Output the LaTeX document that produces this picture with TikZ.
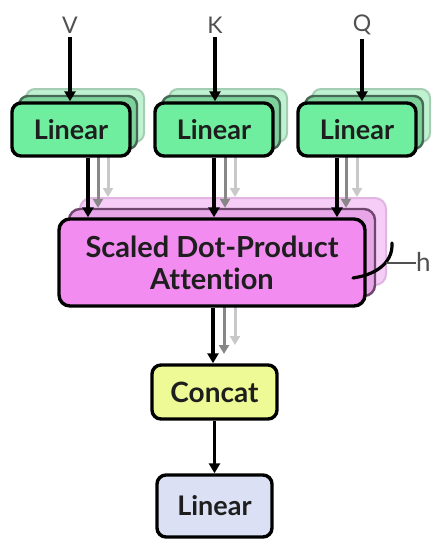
\documentclass[tikz,border=0pt]{standalone}
\usepackage{fontspec}
\setmainfont{Lato}[Ligatures=NoCommon]
\usetikzlibrary{arrows.meta}
\definecolor{gfront}{RGB}{112,238,160}
\definecolor{gmid}{RGB}{125,210,155}
\definecolor{gmidd}{RGB}{70,105,85}
\definecolor{gback}{RGB}{190,242,208}
\definecolor{gbackd}{RGB}{165,205,180}
\definecolor{pfront}{RGB}{242,140,240}
\definecolor{pmid}{RGB}{232,165,232}
\definecolor{pmidd}{RGB}{110,70,110}
\definecolor{pback}{RGB}{246,205,246}
\definecolor{pbackd}{RGB}{225,180,225}
\definecolor{ycol}{RGB}{238,250,150}
\definecolor{lcol}{RGB}{220,224,245}
\definecolor{txt}{RGB}{30,30,30}
\definecolor{lbltxt}{RGB}{80,80,80}
\definecolor{greyA}{RGB}{135,135,135}
\definecolor{greyB}{RGB}{200,200,200}
\tikzset{
  box/.style={draw=black, line width=3.4pt, rounded corners=9pt, text=txt, font=\bfseries},
  linbox/.style={box, fill=gfront, minimum width=118pt, minimum height=53pt, font=\bfseries\fontsize{27}{29}\selectfont},
  linmid/.style={draw=gmidd, line width=2.4pt, rounded corners=9pt, fill=gmid, minimum width=118pt, minimum height=53pt},
  linback/.style={draw=gbackd, line width=2pt, rounded corners=9pt, fill=gback, minimum width=118pt, minimum height=53pt},
  sdmid/.style={draw=pmidd, line width=2.4pt, rounded corners=11pt, fill=pmid, minimum width=306pt, minimum height=87pt},
  sdback/.style={draw=pbackd, line width=2pt, rounded corners=11pt, fill=pback, minimum width=306pt, minimum height=87pt},
  arr/.style={-{Triangle[length=10pt,width=11pt]}, line width=3.2pt, draw=black},
  garr/.style={-{Triangle[length=9pt,width=10pt]}, line width=3pt, draw=greyA},
  lgarr/.style={-{Triangle[length=9pt,width=10pt]}, line width=3pt, draw=greyB},
  lbl/.style={text=lbltxt, font=\fontsize{23}{25}\selectfont}
}
\begin{document}
\begin{tikzpicture}[x=1pt,y=-1pt]
\useasboundingbox (0,0) rectangle (440,550);
% input labels
\node[lbl] (V) at (70,25) {V};
\node[lbl] (K) at (215,25) {K};
\node[lbl] (Q) at (362,25) {Q};
% back layers of linear stacks
\node[linback] (L1c) at (85,115.5) {};
\node[linback] (L2c) at (228,115.5) {};
\node[linback] (L3c) at (371,115.5) {};
\node[linmid] (L1b) at (78,122.5) {};
\node[linmid] (L2b) at (221,122.5) {};
\node[linmid] (L3b) at (364,122.5) {};
% back layers of attention stack
\node[sdback] (S3) at (233,241.5) {};
\node[sdmid] (S2) at (222,252.5) {};
% grey arrows linear -> attention
\draw[lgarr] (L1c.south -| 108,0) -- (S3.north -| 108,0);
\draw[lgarr] (L2c.south -| 235,0) -- (S3.north -| 235,0);
\draw[lgarr] (L3c.south -| 357,0) -- (S3.north -| 357,0);
\draw[garr] (L1b.south -| 98,0) -- (S2.north -| 98,0);
\draw[garr] (L2b.south -| 225,0) -- (S2.north -| 225,0);
\draw[garr] (L3b.south -| 346,0) -- (S2.north -| 346,0);
% grey arrows attention -> concat (behind front box)
\coordinate (g1) at (235,345);
\coordinate (g2) at (224,354);
\draw[lgarr] (S3.south -| g1) -- (g1);
\draw[garr] (S2.south -| g2) -- (g2);
% front linear boxes
\node[linbox] (L1) at (71,129.5) {Linear};
\node[linbox] (L2) at (214,129.5) {Linear};
\node[linbox] (L3) at (357,129.5) {Linear};
% input arrows
\draw[arr] (V.south) -- (V.south |- L1.north);
\draw[arr] (K.south) -- (K.south |- L2.north);
\draw[arr] (Q.south) -- (Q.south |- L3.north);
% front attention box
\node[box, fill=pfront, minimum width=306pt, minimum height=87pt, rounded corners=11pt, align=center,
      font=\bfseries\fontsize{29}{32}\selectfont] (S1) at (212,262.5) {Scaled Dot-Product\\Attention};
% black arrows linear -> attention
\draw[arr] (L1.south -| 88,0) -- (S1.north -| 88,0);
\draw[arr] (L2.south -| 214,0) -- (S1.north -| 214,0);
\draw[arr] (L3.south -| 337,0) -- (S1.north -| 337,0);
% h marker
\coordinate (hs) at (353,278);
\coordinate (he) at (392,243);
\draw[line width=3.2pt, line cap=round] (hs) .. controls (380,274) and (393,260) .. (he);
\coordinate (ha) at (386,263);
\node[lbl, anchor=west, inner sep=0pt, font=\fontsize{26}{28}\selectfont] (h) at (416,262) {h};
\draw[line width=2pt, draw=lbltxt] (ha) -- (h.west |- ha);
% concat and final linear
\node[box, fill=ycol, minimum width=125pt, minimum height=54pt, font=\bfseries\fontsize{28}{30}\selectfont] (C) at (214.5,392) {Concat};
\node[box, fill=lcol, minimum width=115pt, minimum height=62pt, font=\bfseries\fontsize{27}{29}\selectfont] (LO) at (214.5,506) {Linear};
\draw[arr] (S1.south -| 213,0) -- (C.north -| 213,0);
\draw[arr] (C.south) -- (LO.north);
\end{tikzpicture}
\end{document}
